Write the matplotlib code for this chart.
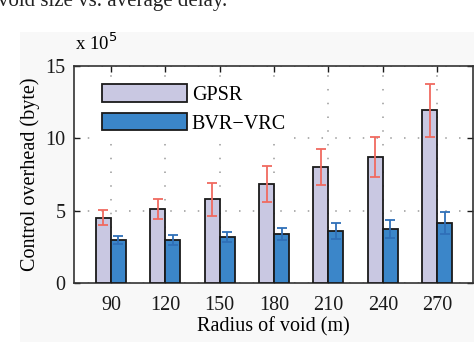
import matplotlib
matplotlib.use("Agg")
import matplotlib.pyplot as plt
import numpy as np
from matplotlib.patches import Rectangle

radius = ["90", "120", "150", "180", "210", "240", "270"]
gpsr = [4.51, 5.11, 5.78, 6.82, 8.02, 8.69, 11.94]
gpsr_err = [0.51, 0.72, 1.15, 1.25, 1.24, 1.38, 1.83]
bvr = [2.97, 2.97, 3.20, 3.39, 3.59, 3.73, 4.15]
bvr_err = [0.30, 0.37, 0.35, 0.39, 0.54, 0.64, 0.74]

plt.rcParams['font.family'] = ['Liberation Serif', 'DejaVu Serif']

W, H = 474, 342
fig = plt.figure(figsize=(W/100, H/100), dpi=100)
fig.patches.append(Rectangle((20/W, 0), 1, 1 - 32/H, transform=fig.transFigure,
                             facecolor='#f8f8f8', edgecolor='none', zorder=-10))
fig.text(-2/W, 1 - 6/H, "void size vs. average delay.", fontsize=15,
         ha='left', va='baseline', color='#222222')

ax = fig.add_axes([74/W, 1 - 283/H, (473-74)/W, (283-66)/H])
ax.set_facecolor('white')

x = np.arange(1, len(radius) + 1)
w = 0.277
ax.bar(x - w/2, gpsr, w, color='#c9c8e2', edgecolor='#1a1a1a', linewidth=1.3,
       label='GPSR', zorder=3)
ax.bar(x + w/2, bvr, w, color='#3b86c9', edgecolor='#1a1a1a', linewidth=1.3,
       label='BVR\u2212VRC', zorder=3)
ax.errorbar(x - w/2, gpsr, yerr=gpsr_err, fmt='none', ecolor='#f06a60',
            elinewidth=1.3, capsize=3.5, capthick=1.3, zorder=4)
ax.errorbar(x + w/2, bvr, yerr=bvr_err, fmt='none', ecolor='#2f6fb8',
            elinewidth=1.3, capsize=3.5, capthick=1.3, zorder=4)

ax.set_xlim(0.32, 7.66)
ax.set_ylim(0, 15)
ax.set_xticks(x)
ax.set_xticklabels(radius)
ax.set_yticks([0, 5, 10, 15])
ax.tick_params(direction='in', length=4, width=1, labelsize=14.5,
               top=True, right=True, colors='#1a1a1a', pad=6)
ax.tick_params(axis='x', pad=9)
for s in ax.spines.values():
    s.set_linewidth(1.2)
    s.set_color('#333333')
ax.grid(True, linestyle=(0, (1, 8)), color='#9a9a9a', linewidth=1.1, zorder=0)
ax.set_axisbelow(True)

ax.set_xlabel("Radius of void (m)", fontsize=14.5, labelpad=2)
ax.set_ylabel("Control overhead (byte)", fontsize=14.5, labelpad=4)
fig.text(75/W, 1 - 50/H, "x 10$^5$", fontsize=13.5, ha='left', va='baseline')

leg = ax.legend(loc='upper left', bbox_to_anchor=(0.03, 0.99), frameon=True,
                fancybox=False, edgecolor='white', facecolor='white', framealpha=1,
                fontsize=14.5, handlelength=4.2, handleheight=0.95,
                handletextpad=0.25, labelspacing=0.4, borderpad=0.3)

fig.savefig("out.png", dpi=100)
